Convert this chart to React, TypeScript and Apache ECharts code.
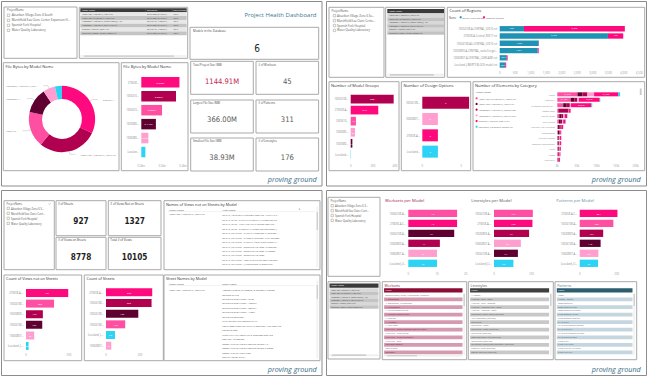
import React, { useEffect, useRef } from 'react';
import * as echarts from 'echarts';

const FONT = '"Segoe UI", "Open Sans", "Noto Sans", sans-serif';
const NUM_FONT = '"DejaVu Sans Condensed", "Roboto", sans-serif';

const BP = '#FF0A7E';
const DM = '#B0004F';
const MP = '#FF4FA3';
const DW = '#5E0030';
const LP = '#FF9FD0';
const CY = '#2DD3F5';
const TEAL = '#1F93B4';

// ---------- shared lists ----------
const projectNames = ['Aksarben Village Zone 6 South', 'Marshfield Eau Claire Center Expansion H...', 'Spanish Fork Hospital', 'Water Quality Laboratory'];
const projectNamesShort = ['Aksarben Village Zone 6 So...', 'Marshfield Eau Claire Cente...', 'Spanish Fork Hospital', 'Water Quality Laboratory'];
const projectNamesShort2 = ['Aksarben Village Zone 6 S...', 'Marshfield Eau Claire Cent...', 'Spanish Fork Hospital', 'Water Quality Laboratory'];
const modelNames = ['10034108-A-CENTRAL_V2016.rvt', '10034108-AG-CENTRAL_V2016.rvt', '10030809-A-CENTRAL_rashell.roger@...rvt', '10060807-A-CENTRAL_LOWLAND.rvt', '270658-A-Central_R2017.rvt', 'Loveland_LIBERTY BLOCK model.rvt'];
const revitBuilds = ['20151008_0715(x64)', '20151008_0715(x64)', '20170118_1100(x64)', '20151008_0715(x64)', '20170118_1100(x64)', '20151008_0715(x64)'];
const revitVersions = ['2016', '2016', '2017', '2016', '2017', '2016'];

// ---------- dashboard 1 ----------
const fileBytesCats = ['270658...', '1003410...', '1003410...', '1003080...', '1006080...', 'Lovelan...'];
const fileBytesMB = [366, 333, 199, 140, 68, 39];
const fileBytesColors = [BP, DM, MP, DW, LP, CY];
const pieNames = ['270658-A-Central_R2017...', '10034108-A-CENTRAL_V2016.rvt', '10034108-A-G...', '10030809-A-CENTRAL...', '10060807-A-CENTRAL_LOWLA...', 'Loveland...'];
const cardTitles1 = ['Total Project Size (MB)', '# of Worksets', 'Largest File Size (MB)', '# of Patterns', 'Smallest File Size (MB)', '# of Linestyles'];
const cardValues1 = ['1144.91M', '45', '366.00M', '311', '38.93M', '176'];
const modelsInDb = '6';

// ---------- dashboard 2 ----------
const regionCats = ['10034108-A-CENTRAL_V2016.rvt', '270658-A-Central_R2017.rvt', '10034108-AG-CENTRAL_V2016.rvt', '10030809-A-CENTRAL_rashell.rogel...', '10060807-A-CENTRAL_LOWLAND.rvt', 'Loveland_LIBERTY BLOCK model.rvt'];
const detailFilled = [782, 3489, 1256, 1224, 227, 180];
const masking = [3252, 493, 8, 32, 28, 30];
const mgCats = ['10034108...', '270658-A...', '1003410...', '1006080...', '1003080...', 'Loveland...'];
const mgVals = [388, 249, 47, 39, 15, 3];
const mgColors = [DM, BP, MP, LP, DW, CY];
const doCats = ['10034108...', '10060807...', '270658-A...', 'Loveland...'];
const doVals = [6, 2, 2, 2];
const doColors = [DM, LP, BP, CY];
const elemCats = ['Lines', '<Sketch>', 'Automatic Sketch Di...', 'Room Tags', 'Detail Items', 'Text Notes', 'Curtain Wall Mullions', 'Dimensions', 'Curtain Panels', 'Specialty Equipment', 'Walls', 'Views', 'Gen Text'];
const elemSeriesNames = ['10034108-AG-CENTRAL_V2016.rvt', '10034108-A-CENTRAL_V2016.rvt', '10030809-A-CENTRAL_rashell.rog...', '10060807-A-CENTRAL_LOWLAND...', '270658-A-Central_R2017.rvt', 'Loveland_LIB BLOCK model.rvt'];
const elemColors = [MP, DW, DM, LP, BP, CY];
const elemAG = [51373, 34120, 15040, 2000, 5000, 4000, 2000, 1500, 1000, 1000, 1500, 1500, 1000];
const elemA = [13000, 9000, 9000, 1000, 6000, 5000, 4000, 3000, 2000, 2500, 2000, 1500, 1500];
const elemRashell = [12500, 8000, 8000, 26000, 4000, 3000, 3000, 2000, 2500, 2000, 2000, 1500, 1500];
const elemLowland = [17000, 4000, 3000, 1000, 4000, 3000, 1000, 1000, 1500, 1500, 1000, 1000, 500];
const elem270658 = [61236, 53010, 52010, 4000, 6000, 6000, 5000, 2500, 3000, 3000, 2500, 2500, 2500];
const elemLoveland = [5200, 1500, 2000, 0, 1000, 1000, 0, 0, 0, 0, 0, 0, 0];

// ---------- dashboard 3 ----------
const cardTitles3 = ['# of Sheets', '# of Views Not on Sheets', '# of Views on Sheets', 'Total # of Views'];
const cardValues3 = ['927', '1327', '8778', '10105'];
const viewNames = [
  'DT-TYP_HEAD-OF-PARTITION DETAILS - CMU AT C...',
  'DT-TYP_GWB - TYPICAL GYPSUM WALLBOARD PR...',
  'DT-TYP_GWB - HIGH-IMPACT CABINET DETAILS',
  'DT-TYP_GWB - GYPSUM WALLBOARD CONTROL J...',
  'DT-TYP_FRAMING - TYPICAL INTERIOR PARTITION ...',
  'DT-TYP_FRAMING - RATED PARTITION WITH OFFSET',
  'DT-TYP_FRAMING - PARTIAL HEIGHT OR KNEE WA...',
  'DT-TYP_FRAMING - OPENING HEADER AT DOUBL...',
  'DT-TYP_FRAMING - OPENING HEADER AT DOOR',
  'DT-TYP_FRAMING - OPENING HEADER',
  'DT-TYP_FRAMING - METAL BACKING DETAILS FOR...',
  'DT-TYP_FRAMING - JAMB STUDS AT OPENING',
];
const sheetNames = [
  'ABBREVIATIONS, SYMBOLS, & GENERAL NOTES', 'BRIDGE PLANS', 'BUILDING ELEVATION - EAST', 'BUILDING ELEVATION - NORTH',
  'BUILDING ELEVATION - SOUTH', 'BUILDING ELEVATION - WEST', 'BUILDING SECTION', 'CIVIL SCHEMATIC DESIGN PLAN',
  'COLLABORATION STAIR PLAN SECTION AND DETAILS', 'COVER SHEET', 'CURTAINWALL MOCK UP & PROCESS DETAILS', 'DETAILS - EXTERIOR',
  'DOOR AND FRAME SCHEDULE LEVELS 1-6', 'DOOR AND FRAME SCHEDULE LEVELS 7-ROOF', 'DOOR AND FRAME TYPES', 'EIGHTH LEVEL RCMA',
];
const vnsCats = ['270658-A-...', '10034108...', '10030809...', '10034108...', '10060807...', 'Loveland_L...'];
const vnsVals = [491, 326, 196, 189, 95, 30];
const vnsColors = [BP, MP, DM, DW, LP, CY];
const sheetsCats = ['270658-A-...', '10034108...', '10034108...', '10034108...', 'Loveland_L...', '10060807...'];
const sheetsVals = [272, 268, 190, 113, 53, 31];
const sheetsColors = [BP, DM, DW, MP, CY, LP];

// ---------- dashboard 4 ----------
const wsCats = ['10034108-A...', '270658-A-C...', '10034108-A...', '10030809-A...', '10060807-A...', 'Loveland_LI...'];
const wsVals = [17, 17, 16, 11, 10, 10];
const wsColors = [MP, BP, DW, DM, LP, CY];
const lsCats = ['10034108-A...', '270658-A-...', '10030809-A...', '10060807-A...', '10034108-A...', 'Loveland_LI...'];
const lsVals = [104, 103, 94, 72, 64, 52];
const lsColors = [MP, BP, DM, LP, DW, CY];
const ptCats = ['270658-A-C...', '10034108-A...', '10030809-A...', '10034108-A...', '10060807-A...', 'Loveland_LI...'];
const ptVals = [204, 182, 127, 113, 101, 99];
const ptColors = [BP, MP, DM, DW, LP, CY];
const worksetNames = ['Shared Levels, Grids, Workplanes, Grapher...', 'zz Equipment', 'zz Equipment_Furnishings', 'zz Furnishings', 'zz Future Construction', 'zz Interior Construction', 'zz Lighting', 'zz Millwork', 'zz Partitions', 'CAD LINK - BLDG CORNER VERIFICATION', 'CAD LINK - FURNITURE', 'CAD LINK - PARKING STRUC', 'CAD LINK - SITE', 'CONVERT BLOCK', 'Core & Shell', 'Envelope'];
const linestyleNames = ['<Hidden>', 'WDR 50 - Thin - Solid', 'WDR 50 - Thin - Dashed', 'WDR 50 - Medium Thin - Solid', 'WDR 50 - Medium - Solid', 'accessible travel route (drafting)', 'ADA clearance (drafting)', 'centerline', 'centerline - small', 'centerline - small (drafting)', 'centerline (drafting)', 'dash and angle line (drafting)', 'matchlines (drafting)', 'occupancy calculation boundary (drafting)', 'property lines (drafting)', 'smoke barriers (drafting)'];
const patternNames = ['FGSD', '#Glass - Dense', '0300 concrete', '0300 concrete rod', '0300 concrete surface', '0400 masonry grout', '0400 masonry mortar', '0413 brick', '0413 brick soldier course', '0413 brick cut', '0413 brick soldier surface', '0413 brick surface', '0462 CMU', '0462 CMU Grid', '0462 CMU 8x16 reflect', '0462 CMU cut'];

const fmtComma = (v: number) => v.toLocaleString('en-US');

function buildGraphics() {
  const g: any[] = [];
  const R = (x: number, y: number, w: number, h: number, fill: string, stroke?: string, lw?: number) =>
    g.push({ type: 'rect', silent: true, shape: { x, y, width: w, height: h }, style: { fill, stroke: stroke || null, lineWidth: lw || 0 } });
  const T = (x: number, y: number, text: string, size: number, fill: string, o: any = {}) =>
    g.push({
      type: 'text', silent: true, x, y,
      style: {
        text, fontSize: size, fontFamily: o.font || FONT, fontWeight: o.weight || 'normal',
        fontStyle: o.italic ? 'italic' : 'normal', fill,
        align: o.align || 'left', textAlign: o.align || 'left',
        verticalAlign: 'middle', textVerticalAlign: 'middle',
      },
    });
  const L = (x1: number, y1: number, x2: number, y2: number, stroke: string, lw: number) =>
    g.push({ type: 'line', silent: true, shape: { x1, y1, x2, y2 }, style: { stroke, lineWidth: lw } });
  const panel = (x: number, y: number, w: number, h: number) => R(x, y, w, h, 'none', '#a9a9a9', 1);
  const check = (x: number, y: number) => R(x, y - 1.2, 2.4, 2.4, '#fff', '#8a8a8a', 0.45);
  const logo = (x: number, y: number) => T(x, y, 'proving ground', 7.2, '#356C85', { italic: true, align: 'right' });

  // quadrant frames
  R(1.5, 1.5, 320.5, 184.5, 'none', '#8c8c8c', 1);
  R(326.5, 1.5, 320, 184.5, 'none', '#8c8c8c', 1);
  R(1.5, 190.5, 320.5, 185, 'none', '#8c8c8c', 1);
  R(326.5, 190.5, 320, 185, 'none', '#8c8c8c', 1);

  // ================= Q1 =================
  panel(4, 7, 73, 51.3);
  T(7, 10.3, 'ProjectName', 2.8, '#555');
  projectNames.forEach((p, i) => { const y = 15.3 + 5 * i; check(7.3, y); T(11.7, y, p, 2.9, '#555'); });

  panel(79.3, 7.3, 108.4, 51);
  R(80.3, 8.3, 106.4, 3.9, '#3b3b3b');
  T(82, 10.25, 'Model Name', 2.2, '#fff');
  T(147, 10.25, 'RevitBuild', 2.2, '#fff');
  T(173.5, 10.25, 'RevitVersion', 2.2, '#fff');
  L(145.7, 8.3, 145.7, 12.2, '#888', 0.3);
  L(172.3, 8.3, 172.3, 12.2, '#888', 0.3);
  modelNames.forEach((m, i) => {
    const y0 = 12.2 + i * 3.85;
    R(80.3, y0, 106.4, 3.85, i % 2 ? '#c4c4c4' : '#e8e8e8');
    T(82, y0 + 1.95, m, 2.1, '#444');
    T(147, y0 + 1.95, revitBuilds[i], 2.1, '#444');
    T(173.5, y0 + 1.95, revitVersions[i], 2.1, '#444');
  });
  R(80.5, 55, 106, 2.2, '#f2f2f2');
  R(84, 55.4, 90, 1.4, '#c8c8c8');

  T(316.5, 15.3, 'Project Health Dashboard', 6, '#3E7691', { align: 'right' });

  panel(190, 27.3, 128.7, 32);
  T(193, 30.6, 'Models in the Database', 3, '#444');
  T(254.3, 48, modelsInDb, 10, '#1e1e1e', { font: NUM_FONT });

  panel(3.3, 62.7, 115.7, 108);
  T(5.5, 66, 'File Bytes by Model Name', 4, '#333');
  panel(121.3, 62.7, 66.7, 108);
  T(123.3, 66, 'File Bytes by Model Name', 4, '#333');

  const cardX = [190.7, 256];
  const cardY = [61.3, 100, 138];
  cardTitles1.forEach((t, i) => {
    const x = cardX[i % 2];
    const y = cardY[Math.floor(i / 2)];
    panel(x, y, 62.6, 33);
    T(x + 2.2, y + 3.2, t, 2.8, '#444');
    T(x + 31.3, y + 19.8, cardValues1[i], 7.6, i === 0 ? '#C2284F' : '#5a5a5a', { font: NUM_FONT, align: 'center' });
  });
  logo(316.7, 179);

  // ================= Q2 =================
  panel(329, 7.3, 55, 70);
  T(331.5, 10.7, 'ProjectName', 2.8, '#555');
  projectNamesShort.forEach((p, i) => { const y = 15.7 + 4.9 * i; check(333.3, y); T(337, y, p, 2.8, '#555'); });

  panel(385.7, 7.3, 59, 70);
  R(387.3, 9, 56.7, 4.3, '#3a3a3a');
  T(389, 11.15, 'Model Name', 2.2, '#fff');
  modelNames.forEach((m, i) => {
    const y0 = 14 + i * 3.45;
    R(387.3, y0, 56.7, 3.45, i % 2 ? '#c2c2c2' : '#d8d8d8');
    T(389, y0 + 1.75, m, 2, '#444');
  });
  R(387.3, 73.8, 56.7, 2, '#efefef');
  R(390, 74.2, 44, 1.2, '#c4c4c4');

  panel(447.3, 7.3, 197.4, 70);
  T(449.5, 10.5, 'Count of Regions', 4, '#333');
  T(449, 17.3, 'Name', 2.6, '#555');
  g.push({ type: 'circle', silent: true, shape: { cx: 460.7, cy: 17.3, r: 1.1 }, style: { fill: TEAL } });
  T(462.2, 17.3, 'Detail Filled Region', 2.5, '#666');
  g.push({ type: 'circle', silent: true, shape: { cx: 484, cy: 17.3, r: 1.1 }, style: { fill: BP } });
  T(485.5, 17.3, 'Masking Region', 2.5, '#666');

  panel(329, 81.7, 70, 89);
  T(331, 85, 'Number of Model Groups', 4, '#333');
  panel(401.3, 81.7, 69.4, 89);
  T(403.5, 85, 'Number of Design Options', 4, '#333');
  panel(473, 81.7, 171.7, 89);
  T(475, 85, 'Number of Elements by Category', 4, '#333');
  T(476, 91.3, 'Model Name', 2.5, '#555');
  elemSeriesNames.forEach((n, i) => {
    const y = 98.3 + i * 5.68;
    g.push({ type: 'circle', silent: true, shape: { cx: 476.6, cy: y, r: 1.1 }, style: { fill: elemColors[i] } });
    T(478.6, y, n, 2.4, '#666');
  });
  R(639.8, 88.5, 1.8, 6.5, '#c8c8c8');
  logo(640.7, 179);

  // ================= Q3 =================
  panel(4, 200.7, 50.3, 69);
  T(6.5, 204, 'ProjectName', 2.6, '#555');
  g.push({ type: 'polyline', silent: true, shape: { points: [[48.6, 203.4], [49.6, 204.4], [50.6, 203.4]] }, style: { stroke: '#777', lineWidth: 0.4, fill: 'none' } });
  projectNamesShort2.forEach((p, i) => { const y = 208.3 + 5 * i; check(7, y); T(11, y, p, 2.6, '#555'); });

  const c3x = [56, 108.3];
  const c3w = [50, 52.7];
  const c3y = [200.7, 237.3];
  const c3h = [35, 32.4];
  cardTitles3.forEach((t, i) => {
    const col = i % 2, row = Math.floor(i / 2);
    panel(c3x[col], c3y[row], c3w[col], c3h[row]);
    T(c3x[col] + 2, c3y[row] + 3, t, 2.9, '#333');
    T(c3x[col] + c3w[col] / 2, row === 0 ? 220.7 : 257.3, cardValues3[i], 8.2, '#1e1e1e', { font: NUM_FONT, align: 'center', weight: 'bold' });
  });

  panel(164, 200.7, 156, 69);
  T(166, 204, 'Names of Views not on Sheets by Model', 3.8, '#333');
  T(169, 209.7, 'Model Name', 2.5, '#555');
  T(222.3, 209.7, 'View Name', 2.5, '#555');
  T(298.3, 209.5, '▼', 2.2, '#555');
  L(168, 211.6, 315, 211.6, '#dddddd', 0.4);
  T(169, 214, modelNames[0], 2.4, '#555');
  viewNames.forEach((v, i) => T(222.3, 215 + 4.45 * i, v, 2.4, '#555'));
  R(316.3, 206.5, 2, 61, '#f3f3f3');
  R(316.6, 212, 1.4, 18, '#d0d0d0');

  panel(4, 275, 77.7, 85.7);
  T(6, 278.3, 'Count of Views not on Sheets', 3.8, '#333');
  panel(84.3, 275, 79, 85.7);
  T(86.5, 278.3, 'Count of Sheets', 3.8, '#333');
  panel(164, 275, 156, 85.7);
  T(166, 278.3, 'Sheet Names by Model', 3.8, '#333');
  T(169, 283.7, 'Model Name', 2.5, '#555');
  T(222.3, 283.7, 'Sheet Name', 2.5, '#555');
  L(168, 285.6, 315, 285.6, '#dddddd', 0.4);
  T(169, 289.7, modelNames[0], 2.4, '#555');
  sheetNames.forEach((s, i) => T(222.3, 289.7 + 4.48 * i, s, 2.4, '#555'));
  R(316.3, 280.5, 2, 78, '#f3f3f3');
  R(316.6, 285, 1.4, 14, '#d0d0d0');
  logo(316.7, 369);

  // ================= Q4 =================
  panel(328, 197.3, 52, 79);
  T(330.5, 200.7, 'ProjectName', 2.6, '#555');
  projectNamesShort2.forEach((p, i) => { const y = 205.7 + 4.9 * i; check(331, y); T(335, y, p, 2.6, '#555'); });

  T(385, 200, 'Worksets per Model', 4.2, '#9E1747');
  T(471.3, 200, 'Linestyles per Model', 4.2, '#555');
  T(556.3, 200, 'Patterns per Model', 4.2, '#5D8FA3');

  panel(328, 281.7, 52, 77.3);
  R(329.5, 283.5, 49, 4.2, '#3a3a3a');
  T(331, 285.6, 'Model Name', 2.2, '#fff');
  modelNames.forEach((m, i) => {
    const y0 = 288.3 + i * 3.4;
    R(329.5, y0, 49, 3.4, i % 2 ? '#c4c4c4' : '#d8d8d8');
    T(331, y0 + 1.7, m, 1.9, '#444');
  });
  R(329.5, 354.2, 49, 2, '#efefef');
  R(332, 354.6, 34, 1.2, '#c4c4c4');

  const tables = [
    { x: 382.3, w: 84.4, title: 'Worksets', tColor: '#9E1747', head: '#8B0E34', alt: '#D59AAF', altText: '#6e2a42', rows: worksetNames },
    { x: 468.3, w: 85, title: 'Linestyles', tColor: '#555', head: '#3f3f3f', alt: '#c8c8c8', altText: '#555', rows: linestyleNames },
    { x: 555, w: 81.7, title: 'Patterns', tColor: '#4F8196', head: '#2D5E6F', alt: '#C6D6DF', altText: '#4d5f68', rows: patternNames },
  ];
  tables.forEach((t) => {
    panel(t.x, 281.7, t.w, 78);
    T(t.x + 2.2, 285, t.title, 3.6, t.tColor);
    const ix = t.x + 1.8;
    const iw = t.w - 6;
    R(ix, 288.3, iw, 4.2, t.head);
    T(ix + 1.2, 290.4, 'Name', 2.2, '#fff');
    t.rows.forEach((r, i) => {
      const yc = 295.7 + 3.78 * i;
      if (i % 2 === 1) R(ix, yc - 1.89, iw, 3.78, t.alt);
      T(ix + 1.2, yc, r, 2.2, i % 2 === 1 ? t.altText : '#666');
    });
    R(ix + iw + 0.8, 293, 1.8, 62, '#f3f3f3');
    R(ix + iw + 1, 294, 1.4, 12, '#cfcfcf');
    if (t.title === 'Worksets') { R(ix, 354.8, iw, 1.8, '#efefef'); R(ix + 3, 355.1, 30, 1.2, '#cccccc'); }
  });
  logo(640.7, 369);

  return g;
}

type BarDef = {
  left: number; top: number; width: number; height: number;
  cats: string[]; max: number; interval: number; margin: number;
  fmtAxis?: (v: number) => string; showMax?: boolean; ySize?: number;
};

function App() {
  const ref = useRef<HTMLDivElement>(null);
  useEffect(() => {
    if (!ref.current) return;
    const chart = echarts.init(ref.current, null, { renderer: 'svg' });

    const grids: any[] = [];
    const xAxes: any[] = [];
    const yAxes: any[] = [];
    const series: any[] = [];

    const addAxes = (d: BarDef) => {
      const idx = grids.length;
      grids.push({ left: d.left, top: d.top, width: d.width, height: d.height, containLabel: false, outerBoundsMode: 'none' });
      xAxes.push({
        type: 'value', gridIndex: idx, min: 0, max: d.max, interval: d.interval,
        axisLine: { show: false }, axisTick: { show: false }, splitLine: { show: false },
        axisLabel: {
          fontSize: 2.8, color: '#999', margin: d.margin, fontFamily: FONT,
          showMaxLabel: d.showMax !== false, showMinLabel: true, hideOverlap: false,
          formatter: d.fmtAxis || ((v: number) => fmtComma(v)),
        },
      });
      yAxes.push({
        type: 'category', gridIndex: idx, data: d.cats, inverse: true,
        axisLine: { show: false }, axisTick: { show: false }, splitLine: { show: false },
        axisLabel: { fontSize: d.ySize || 2.6, color: '#888', margin: 2.5, interval: 0, fontFamily: FONT },
      });
      return idx;
    };

    const simpleBar = (d: BarDef, vals: number[], colors: string[], barWidth: number, fmtLabel: (v: number) => string, minLabel = 0) => {
      const idx = addAxes(d);
      series.push({
        type: 'bar', xAxisIndex: idx, yAxisIndex: idx, barWidth,
        data: vals.map((v, i) => ({ value: v, itemStyle: { color: colors[i] } })),
        label: {
          show: true, position: 'inside', fontSize: 2.5, color: '#fff', fontFamily: FONT,
          formatter: (p: any) => (p.value > minLabel ? fmtLabel(p.value) : ''),
        },
      });
    };

    // Q1 file bytes
    simpleBar({ left: 141.3, top: 75.3, width: 41.7, height: 83.7, cats: fileBytesCats, max: 400, interval: 200, margin: 5, fmtAxis: (v) => (v / 1000).toFixed(1) + 'bn' },
      fileBytesMB, fileBytesColors, 10.5, (v) => (v / 1000).toFixed(2) + 'bn', 50);

    // Q2 regions (stacked)
    const rIdx = addAxes({ left: 499.7, top: 25.1, width: 139.6, height: 43.6, cats: regionCats, max: 4500, interval: 500, margin: 2.5 });
    series.push({
      type: 'bar', name: 'Detail Filled Region', stack: 'regions', xAxisIndex: rIdx, yAxisIndex: rIdx, barWidth: 5.3,
      data: detailFilled, itemStyle: { color: TEAL },
      label: { show: true, position: 'inside', fontSize: 2.3, color: '#fff', fontFamily: FONT, formatter: (p: any) => (p.value >= 150 ? fmtComma(p.value) : '') },
    });
    series.push({
      type: 'bar', name: 'Masking Region', stack: 'regions', xAxisIndex: rIdx, yAxisIndex: rIdx, barWidth: 5.3,
      data: masking, itemStyle: { color: BP },
      label: { show: true, position: 'inside', fontSize: 2.3, color: '#fff', fontFamily: FONT, formatter: (p: any) => (p.value >= 150 ? fmtComma(p.value) : '') },
    });

    // Q2 model groups / design options
    simpleBar({ left: 350.7, top: 93.5, width: 44.3, height: 66.4, cats: mgCats, max: 400, interval: 200, margin: 4.5 },
      mgVals, mgColors, 8.7, (v) => String(v), 10);
    simpleBar({ left: 422.3, top: 94.5, width: 46.8, height: 65.3, cats: doCats, max: 6, interval: 5, margin: 4.5, showMax: false },
      doVals, doColors, 12, (v) => String(v), 0);

    // Q2 elements by category (stacked)
    const eIdx = addAxes({ left: 557.3, top: 91.6, width: 78.4, height: 70.8, cats: elemCats, max: 200000, interval: 50000, margin: 2, fmtAxis: (v) => v / 1000 + 'k', ySize: 2.4 });
    [elemAG, elemA, elemRashell, elemLowland, elem270658, elemLoveland].forEach((vals, i) => {
      series.push({
        type: 'bar', name: elemSeriesNames[i], stack: 'elem', xAxisIndex: eIdx, yAxisIndex: eIdx, barWidth: 4,
        data: vals, itemStyle: { color: elemColors[i] },
        label: { show: true, position: 'inside', fontSize: 2.1, color: '#fff', fontFamily: FONT, formatter: (p: any) => (p.value >= 30000 ? fmtComma(p.value) : '') },
      });
    });

    // Q3
    simpleBar({ left: 26, top: 287.7, width: 43, height: 63.6, cats: vnsCats, max: 500, interval: 500, margin: 2 },
      vnsVals, vnsColors, 8, (v) => String(v), 10);
    simpleBar({ left: 106, top: 287, width: 51, height: 64, cats: sheetsCats, max: 300, interval: 200, margin: 2.5, showMax: false },
      sheetsVals, sheetsColors, 8, (v) => String(v), 10);

    // Q4
    simpleBar({ left: 408.3, top: 208.3, width: 57.4, height: 60, cats: wsCats, max: 20, interval: 10, margin: 4 },
      wsVals, wsColors, 7.3, (v) => String(v), 0);
    simpleBar({ left: 494, top: 208.3, width: 56, height: 60, cats: lsCats, max: 150, interval: 100, margin: 4, showMax: false },
      lsVals, lsColors, 7.3, (v) => String(v), 0);
    simpleBar({ left: 579.7, top: 208.3, width: 55.5, height: 60, cats: ptCats, max: 300, interval: 200, margin: 4, showMax: false },
      ptVals, ptColors, 7.3, (v) => String(v), 0);

    // Q1 donut
    series.push({
      type: 'pie', left: 4, top: 68, width: 114, height: 102,
      center: [58, 51], radius: ['39%', '65%'], startAngle: 90, clockwise: true,
      avoidLabelOverlap: true,
      data: fileBytesMB.map((v, i) => ({
        value: v, name: pieNames[i], itemStyle: { color: fileBytesColors[i] },
        label: { show: i !== fileBytesMB.length - 1 },
        labelLine: { show: i !== fileBytesMB.length - 1 },
      })),
      label: { fontSize: 2.4, color: '#777', fontFamily: FONT, alignTo: 'edge', edgeDistance: 2, formatter: '{b}' },
      labelLine: { length: 3, length2: 3, lineStyle: { color: '#aaa', width: 0.4 } },
      emphasis: { disabled: true },
    });

    chart.setOption({
      animation: false,
      backgroundColor: '#ffffff',
      textStyle: { fontFamily: FONT },
      grid: grids,
      xAxis: xAxes,
      yAxis: yAxes,
      series,
      graphic: { elements: buildGraphics() },
    });
    return () => chart.dispose();
  }, []);
  return <div ref={ref} style={{ position: 'absolute', left: 0, top: 0, width: 648, height: 378, background: '#fff' }} />;
}

export default App;
